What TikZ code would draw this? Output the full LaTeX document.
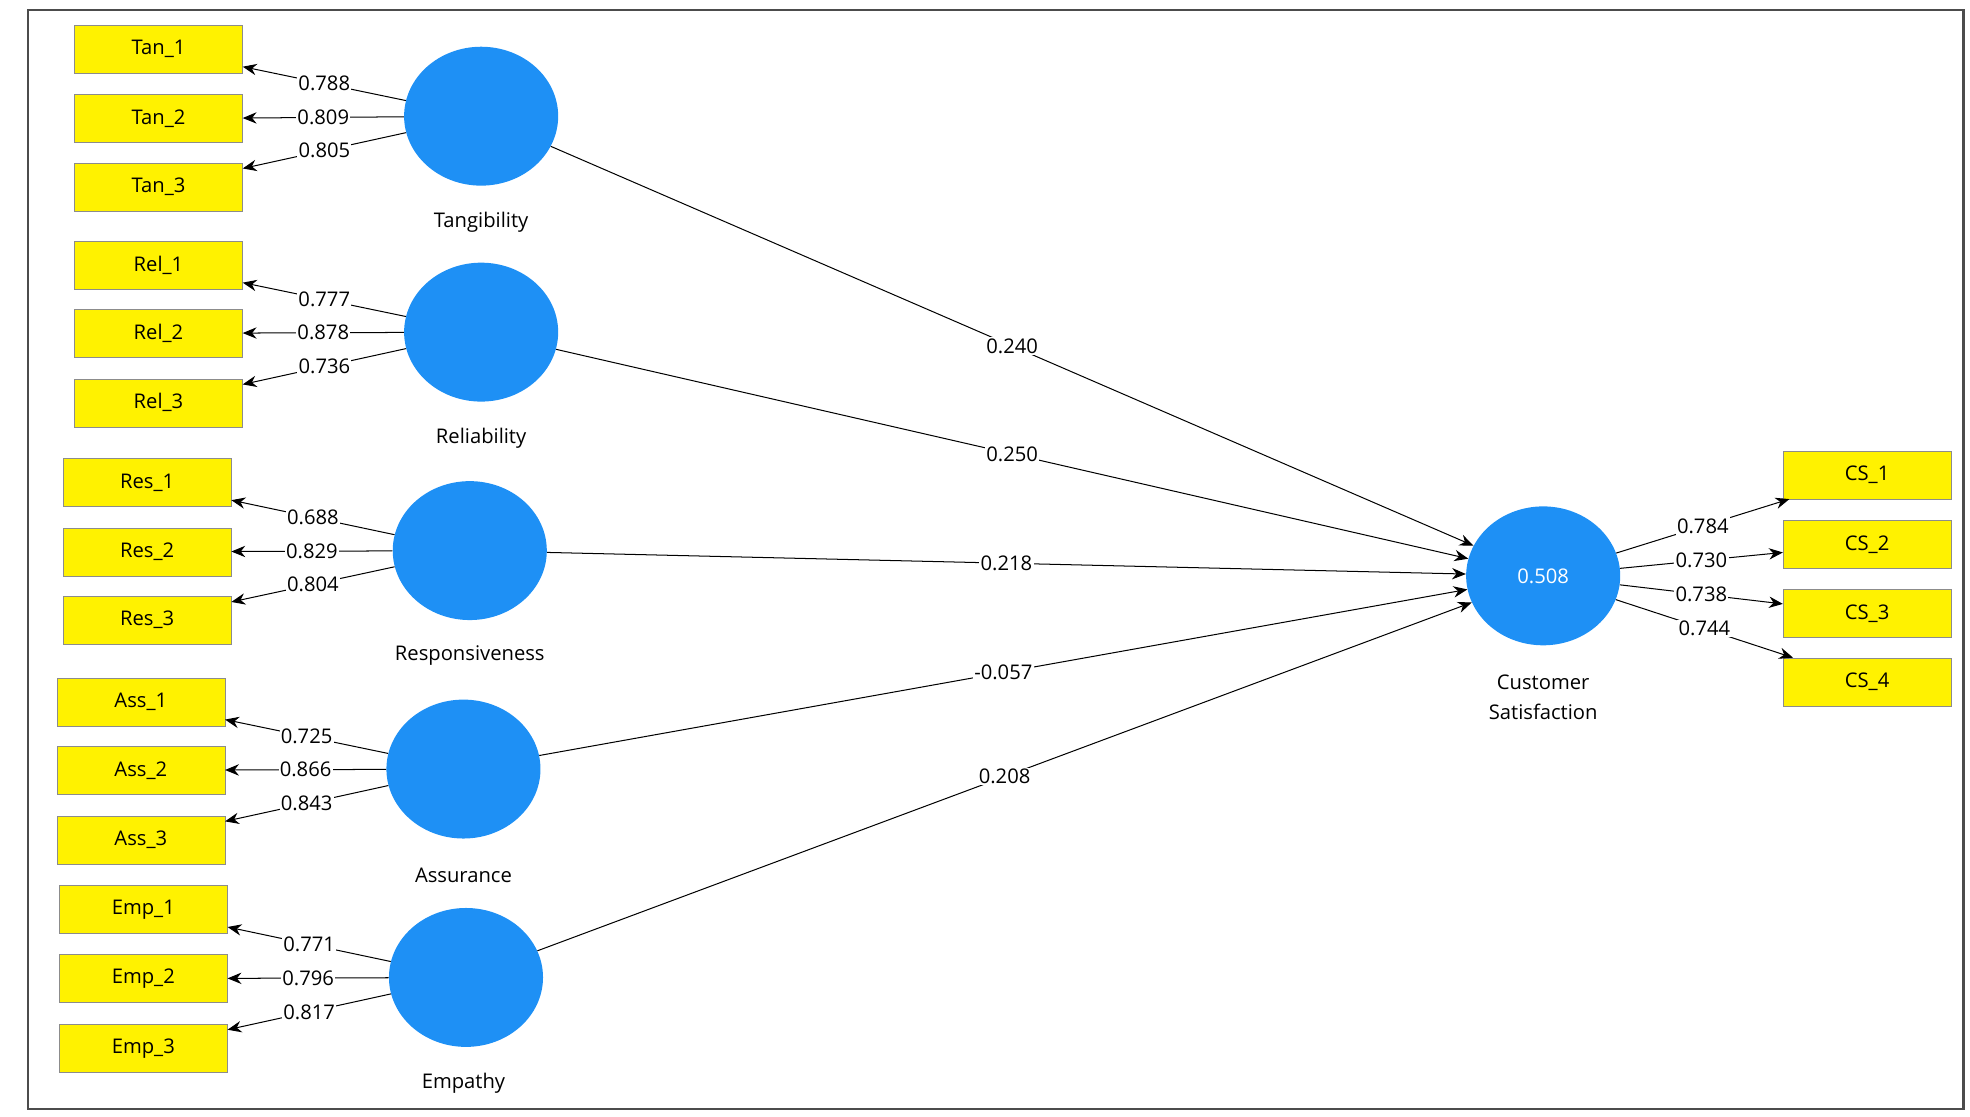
\documentclass[tikz,border=0pt]{standalone}
\usepackage{fontspec}
\setmainfont{Open Sans}
\usetikzlibrary{arrows.meta,shapes.geometric}
\definecolor{lvblue}{HTML}{1E90F5}
\definecolor{indy}{HTML}{FFF200}
\begin{document}
\begin{tikzpicture}[x=1pt,y=-1pt,
  font=\fontsize{16}{19}\selectfont,
  ind/.style={draw=black!45,fill=indy,minimum width=133pt,minimum height=38pt,inner sep=0pt},
  lv/.style={ellipse,fill=lvblue,minimum width=122pt,minimum height=110pt,inner sep=0pt},
  ld/.style={-{Stealth[length=11pt,width=9pt]},line width=0.8pt},
  lab/.style={fill=white,inner sep=1pt,font=\fontsize{16}{19}\selectfont},
  lvcap/.style={font=\fontsize{16}{19}\selectfont,align=center}]
\useasboundingbox (0,0) rectangle (1560,884);
\draw[black!70,line width=2pt] (22,8) rectangle (1555,878);
% latent variables
\node[lv] (tan) at (381,92) {};
\node[lv] (rel) at (381,263) {};
\node[lv] (res) at (372,436) {};
\node[lv] (ass) at (367,609) {};
\node[lv] (emp) at (369,774) {};
\node[lv,text=white] (cs) at (1222,456) {0.508};
\node[lvcap] (tanl) at (381,176) {Tangibility};
\node[lvcap] (rell) at (381,347) {Reliability};
\node[lvcap] (resl) at (372,519) {Responsiveness};
\node[lvcap] (assl) at (367,693) {Assurance};
\node[lvcap] (empl) at (367,858) {Empathy};
\node[lvcap,font=\fontsize{16}{24}\selectfont] (csl) at (1222,552) {Customer\\Satisfaction};
% indicators
\node[ind] (t1) at (125.5,39) {Tan\_1};
\node[ind] (t2) at (125.5,94) {Tan\_2};
\node[ind] (t3) at (125.5,148) {Tan\_3};
\node[ind] (r1) at (125.5,210) {Rel\_1};
\node[ind] (r2) at (125.5,264) {Rel\_2};
\node[ind] (r3) at (125.5,319) {Rel\_3};
\node[ind] (s1) at (116.5,382) {Res\_1};
\node[ind] (s2) at (116.5,437) {Res\_2};
\node[ind] (s3) at (116.5,491) {Res\_3};
\node[ind] (a1) at (111.5,556) {Ass\_1};
\node[ind] (a2) at (111.5,610) {Ass\_2};
\node[ind] (a3) at (111.5,665) {Ass\_3};
\node[ind] (e1) at (113.5,720) {Emp\_1};
\node[ind] (e2) at (113.5,775) {Emp\_2};
\node[ind] (e3) at (113.5,830) {Emp\_3};
\node[ind] (c1) at (1478.5,376) {CS\_1};
\node[ind] (c2) at (1478.5,431) {CS\_2};
\node[ind] (c3) at (1478.5,486) {CS\_3};
\node[ind] (c4) at (1478.5,540) {CS\_4};
% loadings
\foreach \l/\i/\v in {tan/t1/0.788,tan/t2/0.809,tan/t3/0.805,
  rel/r1/0.777,rel/r2/0.878,rel/r3/0.736,
  res/s1/0.688,res/s2/0.829,res/s3/0.804,
  ass/a1/0.725,ass/a2/0.866,ass/a3/0.843,
  emp/e1/0.771,emp/e2/0.796,emp/e3/0.817,
  cs/c1/0.784,cs/c2/0.730,cs/c3/0.738,cs/c4/0.744}
  \draw[ld] (\l) -- node[lab]{\v} (\i);
% paths
\foreach \l/\v in {tan/0.240,rel/0.250,res/0.218,ass/-0.057,emp/0.208}
  \draw[ld] (\l) -- node[lab]{\v} (cs);
\end{tikzpicture}
\end{document}
